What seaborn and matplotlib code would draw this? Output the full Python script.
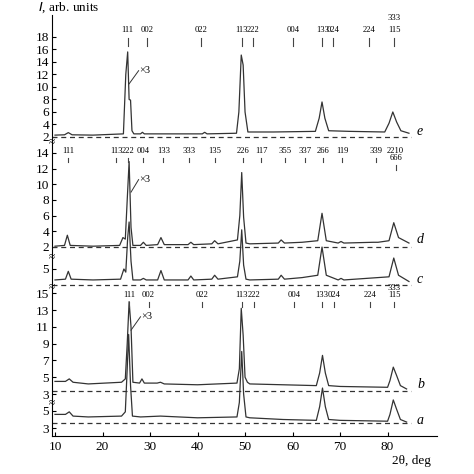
import numpy as np
import pandas as pd
import matplotlib
matplotlib.use('Agg')
import matplotlib.pyplot as plt
import seaborn as sns

# 2theta / intensity points (each curve in its own panel units)
e_x = [10, 12.0, 12.8, 13.6, 18, 24.4, 24.9, 25.3, 25.6, 25.9, 26.2, 26.6, 28.0, 28.4, 28.8, 35, 41.0, 41.5, 42.0, 48.2, 48.7, 49.2, 49.6, 50.0, 50.6, 56, 64.8, 65.6, 66.2, 66.8, 67.6, 72, 79.4, 80.3, 81.1, 81.9, 82.8, 84.5]
e_y = [2.3, 2.35, 2.7, 2.35, 2.3, 2.5, 12, 15.6, 8, 7.9, 3.0, 2.5, 2.5, 2.75, 2.5, 2.5, 2.5, 2.75, 2.5, 2.6, 6, 15.1, 13.5, 6, 2.8, 2.8, 2.9, 5, 7.6, 5, 3.0, 2.9, 2.8, 4.2, 6.0, 4.4, 3.0, 2.6]
d_x = [10, 12.0, 12.6, 13.2, 18, 23.6, 24.3, 24.8, 25.2, 25.6, 26.0, 26.4, 28.0, 28.6, 29.2, 31.6, 32.3, 33.0, 38.0, 38.6, 39.2, 43.0, 43.6, 44.3, 48.4, 48.9, 49.3, 49.7, 50.2, 51.0, 57.0, 57.6, 58.3, 62.0, 65.3, 66.2, 67.1, 69.6, 70.2, 70.8, 77, 78, 80.3, 81.3, 82.3, 84.5]
d_y = [2.1, 2.2, 3.5, 2.2, 2.1, 2.2, 3.2, 3.0, 8, 12.9, 4.5, 2.2, 2.2, 2.6, 2.2, 2.3, 3.2, 2.3, 2.3, 2.6, 2.3, 2.4, 2.8, 2.4, 2.9, 6, 11.5, 5.8, 2.5, 2.4, 2.5, 2.9, 2.5, 2.6, 2.8, 6.3, 2.8, 2.5, 2.7, 2.5, 2.6, 2.6, 2.8, 5.1, 3.2, 2.5]
c_x = [10, 12.2, 12.8, 13.4, 18, 23.8, 24.5, 24.9, 25.3, 25.6, 26.0, 26.4, 28.0, 28.6, 29.2, 31.6, 32.3, 33.0, 38.0, 38.6, 39.2, 43.0, 43.6, 44.3, 48.4, 48.9, 49.3, 49.7, 50.2, 51.0, 57.0, 57.6, 58.3, 62.0, 65.3, 66.2, 67.1, 69.6, 70.2, 70.8, 80.3, 81.3, 82.3, 84.5]
c_y = [3.6, 3.7, 4.7, 3.7, 3.6, 3.7, 5.0, 4.6, 9, 11, 6, 3.6, 3.6, 3.8, 3.6, 3.6, 4.8, 3.6, 3.6, 4.1, 3.6, 3.7, 4.2, 3.7, 4.0, 6, 10, 5.5, 3.7, 3.6, 3.7, 4.2, 3.7, 3.9, 4.2, 7.8, 4.2, 3.6, 3.8, 3.6, 4.0, 6.4, 4.2, 3.4]
b_x = [10, 12.2, 13.0, 13.8, 17, 24, 24.8, 25.2, 25.6, 26.0, 26.4, 27.8, 28.3, 28.8, 31.5, 32.2, 33, 40, 48.3, 48.8, 49.2, 49.6, 50.0, 50.5, 51, 58, 65.0, 65.7, 66.3, 66.9, 67.6, 70, 80, 80.5, 81.2, 81.9, 82.7, 84]
b_y = [4.5, 4.5, 4.8, 4.4, 4.2, 4.4, 4.8, 9, 14, 11, 4.4, 4.3, 4.8, 4.3, 4.3, 4.4, 4.2, 4.1, 4.3, 6, 13.2, 10, 5, 4.4, 4.2, 4.1, 4.0, 5.5, 7.6, 5.5, 4.0, 3.9, 3.8, 4.6, 6.2, 5.2, 4.0, 3.6]
a_x = [10, 12.2, 13.0, 13.8, 17, 24, 24.8, 25.2, 25.5, 25.9, 26.3, 28, 32.2, 40, 48.3, 48.8, 49.3, 49.7, 50.2, 51, 58, 65.0, 65.7, 66.3, 66.9, 67.6, 70, 80, 80.5, 81.2, 81.9, 82.7, 84]
a_y = [4.6, 4.6, 4.9, 4.4, 4.3, 4.4, 4.9, 10, 14, 8, 4.4, 4.3, 4.4, 4.2, 4.3, 6, 12, 7, 4.3, 4.2, 4.0, 3.9, 5.5, 7.7, 5.5, 4.0, 3.9, 3.8, 4.6, 6.3, 5.2, 4.0, 3.7]

# hkl reflections: (position, label)
e_hkl = [(25.3, '111'), (29.4, '002'), (40.7, '022'), (49.3, '113'), (51.6, '222'), (60.1, '004'),
         (66.3, '133'), (68.6, '024'), (76.1, '224'), (81.4, '333\n115')]
d_hkl = [(12.8, '111'), (22.9, '113'), (25.3, '222'), (28.6, '004'), (32.8, '133'), (38.2, '333'),
         (43.6, '135'), (49.5, '226'), (53.4, '117'), (58.5, '355'), (62.6, '337'), (66.5, '266'),
         (70.5, '119'), (77.5, '339'), (81.7, '2210\n666')]
b_hkl = [(25.6, '111'), (29.7, '002'), (41.0, '022'), (49.3, '113'), (51.8, '222'), (60.3, '004'),
         (66.2, '133'), (68.7, '024'), (76.3, '224'), (81.4, '333\n115')]

plt.rcParams['font.family'] = ['Liberation Serif', 'DejaVu Serif']
H = 474.0
# panels: (top px, bottom px, ylim)
panels = {
    'e': (15, 142, (1.2, 21.5)),
    'd': (142, 257, (0.72, 15.4)),
    'c': (257, 287, (2.7, 6.53)),
    'b': (287, 403, (1.93, 15.74)),
    'a': (403, 436, (2.06, 5.94)),
}
curves = {'e': (e_x, e_y, 2.0, range(2, 19, 2)), 'd': (d_x, d_y, 2.0, range(2, 15, 2)),
          'c': (c_x, c_y, 3.0, [5]), 'b': (b_x, b_y, 3.4, range(3, 16, 2)), 'a': (a_x, a_y, 3.6, [3, 5])}
label_y = {'e': 2.8, 'd': 2.9, 'c': 3.6, 'b': 4.1, 'a': 3.9}

fig = plt.figure(figsize=(4.74, 4.74), dpi=100)
left, right = 52 / H, 437 / H
axes = {}
for name, (top, bot, ylim) in panels.items():
    ax = fig.add_axes([left, 1 - bot / H, right - left, (bot - top) / H])
    ax.patch.set_alpha(0)
    xs, ys, base, ticks = curves[name]
    df = pd.DataFrame({'x': xs, 'y': ys})
    sns.lineplot(data=df, x='x', y='y', ax=ax, color='#333333', lw=0.9, sort=False)
    for l in ax.lines:
        l.set_clip_on(False)
    ax.axhline(base, xmin=0, xmax=(85 - 9.37) / (90.4 - 9.37), color='#333333', ls=(0, (4, 3)), lw=0.9)
    ax.set_xlim(9.37, 90.4)
    ax.set_ylim(*ylim)
    ax.set_yticks(list(ticks))
    ax.tick_params(axis='y', direction='in', length=3, labelsize=9.5, pad=2)
    ax.set_xlabel('')
    ax.set_ylabel('')
    for s in ['top', 'right']:
        ax.spines[s].set_visible(False)
    if name != 'a':
        ax.spines['bottom'].set_visible(False)
        ax.set_xticks([])
    else:
        ax.set_xticks(range(10, 81, 10))
        ax.tick_params(axis='x', direction='in', length=3, labelsize=9.5)
    ax.text(86.2, label_y[name], name, style='italic', fontsize=10, va='center')
    if name != 'e':
        ax.text(9.37, ylim[1], '≈', fontsize=8, ha='center', va='center', clip_on=False)
    axes[name] = ax

def hkl_marks(ax, hkl, tick0, tick1, ty, dy2):
    for x, lab in hkl:
        if '\n' in lab:
            top, low = lab.split('\n')
            ax.text(x, ty + dy2, top, ha='center', va='bottom', fontsize=6.2)
            ax.text(x, ty, low, ha='center', va='bottom', fontsize=6.2)
        else:
            ax.text(x, ty, lab, ha='center', va='bottom', fontsize=6.2)
        ax.plot([x, x], [tick0, tick1], color='#444444', lw=0.8)

hkl_marks(axes['e'], e_hkl, 16.6, 17.9, 18.4, 2.0)
# d: the "2210 / 666" pair sits with 2210 on the label row and 666 below it
hkl_marks(axes['d'], d_hkl[:-1], 12.8, 13.4, 13.7, 0.0)
x666, lab666 = d_hkl[-1]
up, low = lab666.split('\n')
axes['d'].text(x666, 13.7, up, ha='center', va='bottom', fontsize=6.2)
axes['d'].text(x666, 12.8, low, ha='center', va='bottom', fontsize=6.2)
axes['d'].plot([x666, x666], [11.8, 12.5], color='#444444', lw=0.8)
hkl_marks(axes['b'], b_hkl, 13.3, 13.9, 14.3, 0.9)

for name, p0, p1 in [('e', (25.6, 10.5), (27.6, 12.6)), ('d', (26.0, 9.0), (27.6, 10.6)), ('b', (26.0, 10.6), (28.0, 12.2))]:
    ax = axes[name]
    ax.plot([p0[0], p1[0]], [p0[1], p1[1]], color='#333333', lw=0.7)
    ax.text(p1[0] + 0.2, p1[1], '×3', fontsize=7.5, va='center')

fig.text(38 / H, 1 - 8 / H, '$\\it{I}$, arb. units', fontsize=9.5, va='center')
fig.text(392 / H, 1 - 461 / H, '2θ, deg', fontsize=9.5, va='center')
fig.savefig('out.png', dpi=100)
